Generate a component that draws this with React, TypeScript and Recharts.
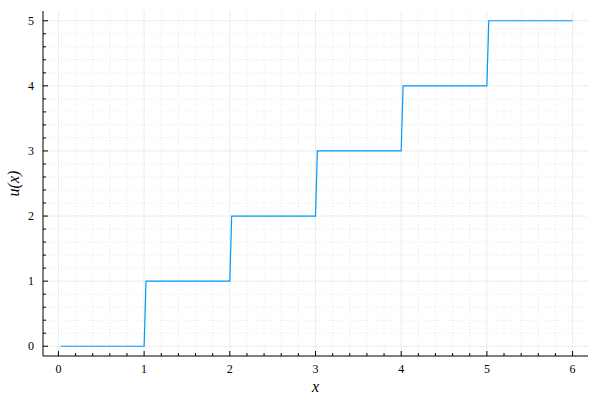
import React from "react";
import { LineChart, Line, XAxis, YAxis, CartesianGrid, Label } from "recharts";

const xValues = [0.025, 1.0, 1.022, 2.0, 2.022, 3.0, 3.022, 4.0, 4.022, 5.0, 5.022, 6.0];
const uValues = [0, 0, 1, 1, 2, 2, 3, 3, 4, 4, 5, 5];

const xMajorTicks = [0, 1, 2, 3, 4, 5, 6];
const xMinorTicks = [
  0.2, 0.4, 0.6, 0.8, 1.2, 1.4, 1.6, 1.8, 2.2, 2.4, 2.6, 2.8, 3.2, 3.4, 3.6, 3.8,
  4.2, 4.4, 4.6, 4.8, 5.2, 5.4, 5.6, 5.8,
];
const yMajorTicks = [0, 1, 2, 3, 4, 5];
const yMinorTicks = [
  0.2, 0.4, 0.6, 0.8, 1.2, 1.4, 1.6, 1.8, 2.2, 2.4, 2.6, 2.8, 3.2, 3.4, 3.6, 3.8,
  4.2, 4.4, 4.6, 4.8,
];

const xDomain = [-0.18, 6.18];
const yDomain = [-0.15, 5.15];

const data = xValues.map((x, i) => ({ x, u: uValues[i] }));
const xAllTicks = [...xMajorTicks, ...xMinorTicks].sort((a, b) => a - b);
const yAllTicks = [...yMajorTicks, ...yMinorTicks].sort((a, b) => a - b);

const FONT = "'Liberation Serif', 'DejaVu Serif', serif";
const isMajor = (v: number) => Math.abs(v - Math.round(v)) < 1e-6;

const XTick = (props: any) => {
  const { x, y, payload } = props;
  const major = isMajor(payload.value);
  return (
    <g>
      <line x1={x} x2={x} y1={y} y2={y - (major ? 5 : 3)} stroke="#000" strokeWidth={1} />
      {major && (
        <text x={x} y={y + 17} textAnchor="middle" fontSize={12} fontFamily={FONT} fill="#000">
          {payload.value}
        </text>
      )}
    </g>
  );
};

const YTick = (props: any) => {
  const { x, y, payload } = props;
  const major = isMajor(payload.value);
  return (
    <g>
      <line x1={x} x2={x + (major ? 5 : 3)} y1={y} y2={y} stroke="#000" strokeWidth={1} />
      {major && (
        <text x={x - 9} y={y + 4} textAnchor="end" fontSize={12} fontFamily={FONT} fill="#000">
          {payload.value}
        </text>
      )}
    </g>
  );
};

export default function App() {
  return (
    <div style={{ position: "absolute", left: 0, top: 0, width: 600, height: 400, background: "#fff" }}>
      <LineChart width={600} height={400} data={data} margin={{ top: 11, right: 12, bottom: 0, left: 0 }}>
        <CartesianGrid
          verticalValues={xMinorTicks}
          horizontalValues={yMinorTicks}
          stroke="#d8d8d8"
          strokeWidth={0.6}
          strokeDasharray="1 2"
        />
        <CartesianGrid
          verticalValues={xMajorTicks}
          horizontalValues={yMajorTicks}
          stroke="#e6e6e6"
          strokeWidth={0.8}
        />
        <XAxis
          type="number"
          dataKey="x"
          domain={xDomain}
          allowDataOverflow
          ticks={xAllTicks}
          interval={0}
          tickSize={0}
          tickMargin={0}
          tickLine={false}
          tick={<XTick />}
          height={44}
          axisLine={{ stroke: "#000", strokeWidth: 1 }}
        >
          <Label
            content={(p: any) => {
              const vb = p.viewBox;
              return (
                <text
                  x={vb.x + vb.width / 2}
                  y={vb.y + 36}
                  textAnchor="middle"
                  fontSize={16}
                  fontStyle="italic"
                  fontFamily={FONT}
                  fill="#000"
                >
                  x
                </text>
              );
            }}
          />
        </XAxis>
        <YAxis
          type="number"
          domain={yDomain}
          allowDataOverflow
          ticks={yAllTicks}
          interval={0}
          tickSize={0}
          tickMargin={0}
          tickLine={false}
          tick={<YTick />}
          width={43}
          axisLine={{ stroke: "#000", strokeWidth: 1 }}
        >
          <Label
            content={(p: any) => {
              const vb = p.viewBox;
              const cx = vb.x + 19;
              const cy = vb.y + vb.height / 2;
              return (
                <text
                  x={cx}
                  y={cy}
                  transform={`rotate(-90 ${cx} ${cy})`}
                  textAnchor="middle"
                  fontSize={16}
                  fontStyle="italic"
                  fontFamily={FONT}
                  fill="#000"
                >
                  u(x)
                </text>
              );
            }}
          />
        </YAxis>
        <Line
          type="linear"
          dataKey="u"
          stroke="#009AFA"
          strokeWidth={1.2}
          dot={false}
          isAnimationActive={false}
        />
      </LineChart>
    </div>
  );
}
